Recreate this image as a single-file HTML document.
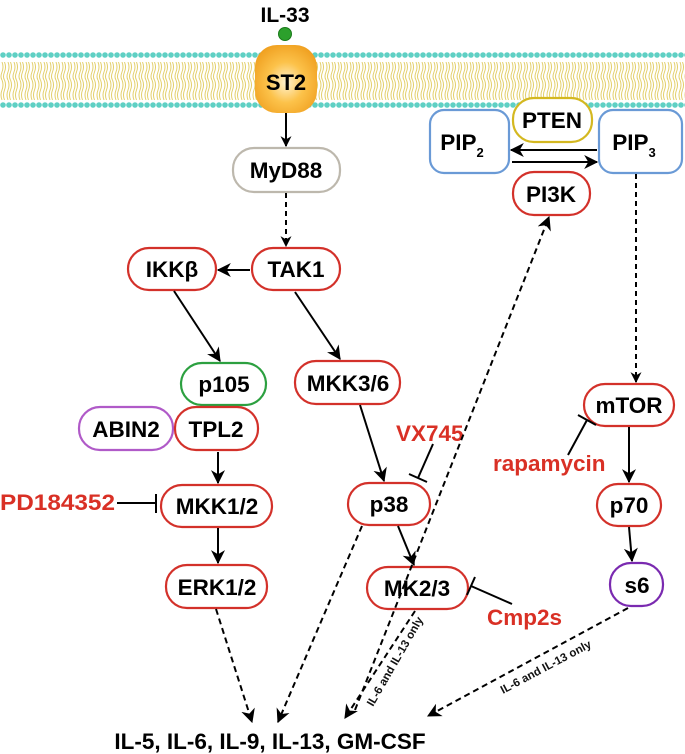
<!DOCTYPE html>
<html><head><meta charset="utf-8"><style>
html,body{margin:0;padding:0;background:#fff}
svg{display:block}
text{font-family:"Liberation Sans",Arial,sans-serif;font-weight:bold}
</style></head><body>
<svg width="685" height="754" viewBox="0 0 685 754" xmlns="http://www.w3.org/2000/svg">
<defs>
<pattern id="heads" x="0" y="0" width="6" height="10" patternUnits="userSpaceOnUse"><circle cx="3" cy="5" r="2.8" fill="#5fd0c4"/></pattern>
<pattern id="tails" x="0" y="0" width="6" height="40" patternUnits="userSpaceOnUse">
<path d="M2 0 q2 5 0 10 q-2 5 0 10 M4.5 0 q2 5 0 10 q-2 5 0 10 M2 22 q2 5 0 10 q-2 5 0 8 M4.5 22 q2 5 0 10 q-2 5 0 8" stroke="#e3cf6a" stroke-width="1" fill="none"/></pattern>
<radialGradient id="og" cx="50%" cy="55%" r="60%"><stop offset="0" stop-color="#fff3d0"/><stop offset="0.5" stop-color="#fcc24a"/><stop offset="1" stop-color="#f0a020"/></radialGradient>
<marker id="a" viewBox="0 0 10 10" refX="9" refY="5" markerWidth="11" markerHeight="11" markerUnits="userSpaceOnUse" orient="auto"><path d="M0 0 L10 5 L0 10 L3 5 Z" fill="#000"/></marker>
<marker id="b" viewBox="0 0 12 12" refX="11" refY="6" markerWidth="14" markerHeight="14" markerUnits="userSpaceOnUse" orient="auto"><path d="M0 0 L12 6 L0 12 L3.5 6 Z" fill="#000"/></marker>
</defs>
<rect x="0" y="62" width="685" height="40" fill="url(#tails)"/>
<rect x="0" y="52" width="685" height="10" fill="url(#heads)"/>
<rect x="0" y="99" width="685" height="10" fill="url(#heads)"/>
<text x="285" y="22" font-size="21" text-anchor="middle">IL-33</text>
<circle cx="285" cy="34" r="6.5" fill="#2ca02c" stroke="#1a7a1a" stroke-width="1"/>
<rect x="255" y="45" width="62" height="68" rx="22" fill="url(#og)"/>
<text x="286" y="90" font-size="22" text-anchor="middle">ST2</text>

<g fill="#fff" stroke-width="2.2">
<rect x="233" y="148" width="107" height="44" rx="21" stroke="#bdb8ad"/>
<rect x="430" y="110" width="79" height="63" rx="14" stroke="#6a9ad6"/>
<rect x="599" y="110" width="83" height="63" rx="14" stroke="#6a9ad6"/>
<rect x="513" y="98" width="79" height="44" rx="21" stroke="#d4b820"/>
<rect x="513" y="172" width="77" height="43" rx="21" stroke="#d3312a"/>
<rect x="128" y="248" width="88" height="42" rx="21" stroke="#d3312a"/>
<rect x="252" y="248" width="88" height="42" rx="21" stroke="#d3312a"/>
<rect x="181" y="363" width="85" height="42" rx="21" stroke="#2ca040"/>
<rect x="295" y="361" width="105" height="43" rx="21" stroke="#d3312a"/>
<rect x="79" y="407" width="94" height="43" rx="21" stroke="#b05ac8"/>
<rect x="175" y="407" width="83" height="43" rx="21" stroke="#d3312a"/>
<rect x="161" y="485" width="111" height="42" rx="21" stroke="#d3312a"/>
<rect x="166" y="565" width="101" height="43" rx="21" stroke="#d3312a"/>
<rect x="348" y="483" width="82" height="42" rx="21" stroke="#d3312a"/>
<rect x="367" y="567" width="101" height="42" rx="21" stroke="#d3312a"/>
<rect x="584" y="384" width="90" height="42" rx="21" stroke="#d3312a"/>
<rect x="597" y="484" width="64" height="42" rx="21" stroke="#d3312a"/>
<rect x="610" y="563" width="53" height="43" rx="21" stroke="#7a2ab0"/>
</g>
<g font-size="22.5" text-anchor="middle">
<text x="286" y="178">MyD88</text>
<text x="462" y="150">PIP<tspan font-size="13" dy="7">2</tspan></text>
<text x="634" y="150">PIP<tspan font-size="13" dy="7">3</tspan></text>
<text x="552" y="128">PTEN</text>
<text x="551" y="202">PI3K</text>
<text x="172" y="277">IKKβ</text>
<text x="296" y="277">TAK1</text>
<text x="224" y="392">p105</text>
<text x="348" y="391">MKK3/6</text>
<text x="126" y="437">ABIN2</text>
<text x="216" y="437">TPL2</text>
<text x="217" y="514">MKK1/2</text>
<text x="217" y="595">ERK1/2</text>
<text x="389" y="512">p38</text>
<text x="417" y="596">MK2/3</text>
<text x="629" y="413">mTOR</text>
<text x="629" y="513">p70</text>
<text x="637" y="593">s6</text>
</g>
<g font-size="22.5" fill="#d93025">
<text x="396" y="441">VX745</text>
<text x="0" y="510" textLength="115" lengthAdjust="spacingAndGlyphs">PD184352</text>
<text x="493" y="471">rapamycin</text>
<text x="487" y="625">Cmp2s</text>
</g>
<text x="270" y="749" font-size="22.5" text-anchor="middle">IL-5, IL-6, IL-9, IL-13, GM-CSF</text>

<g stroke="#000" stroke-width="2" fill="none">
<line x1="286" y1="113" x2="286" y2="146" marker-end="url(#a)"/>
<line x1="286" y1="193" x2="286" y2="246" stroke-dasharray="5,4" marker-end="url(#a)"/>
<line x1="250" y1="270" x2="218" y2="270" marker-end="url(#b)"/>
<line x1="174" y1="291" x2="220" y2="361" marker-end="url(#b)"/>
<line x1="295" y1="292" x2="340" y2="359" marker-end="url(#b)"/>
<line x1="218" y1="452" x2="218" y2="483" marker-end="url(#b)"/>
<line x1="218" y1="528" x2="218" y2="563" marker-end="url(#b)"/>
<line x1="360" y1="405" x2="384" y2="481" marker-end="url(#b)"/>
<line x1="398" y1="526" x2="414" y2="565" marker-end="url(#b)"/>
<line x1="629" y1="427" x2="629" y2="482" marker-end="url(#b)"/>
<line x1="629" y1="527" x2="632" y2="561" marker-end="url(#b)"/>
<line x1="597" y1="150" x2="511" y2="150" marker-end="url(#b)"/>
<line x1="512" y1="162" x2="597" y2="162" marker-end="url(#b)"/>
<line x1="636" y1="174" x2="636" y2="382" stroke-dasharray="5,4" marker-end="url(#a)"/>
<line x1="216" y1="609" x2="252" y2="722" stroke-dasharray="6,4" marker-end="url(#b)"/>
<line x1="362" y1="526" x2="278" y2="722" stroke-dasharray="6,4" marker-end="url(#b)"/>
<line x1="415" y1="611" x2="345" y2="718" stroke-dasharray="6,4" marker-end="url(#b)"/>
<line x1="355" y1="710" x2="549" y2="217" stroke-dasharray="6,4" marker-end="url(#b)"/>
<line x1="628" y1="608" x2="428" y2="716" stroke-dasharray="6,4" marker-end="url(#b)"/>
<line x1="117" y1="503" x2="156" y2="503"/><line x1="156" y1="494" x2="156" y2="513"/>
<line x1="433" y1="444" x2="418" y2="478"/><line x1="409" y1="474" x2="427" y2="482"/>
<line x1="568" y1="455" x2="587" y2="420"/><line x1="578" y1="415" x2="596" y2="425"/>
<line x1="512" y1="604" x2="471" y2="586"/><line x1="467" y1="595" x2="475" y2="577"/>
</g>
<g font-size="11.5" fill="#111">
<text transform="translate(373,707) rotate(-60)">IL-6 and IL-13 only</text>
<text transform="translate(503,694) rotate(-28)">IL-6 and IL-13 only</text>
</g>
</svg>
</body></html>
